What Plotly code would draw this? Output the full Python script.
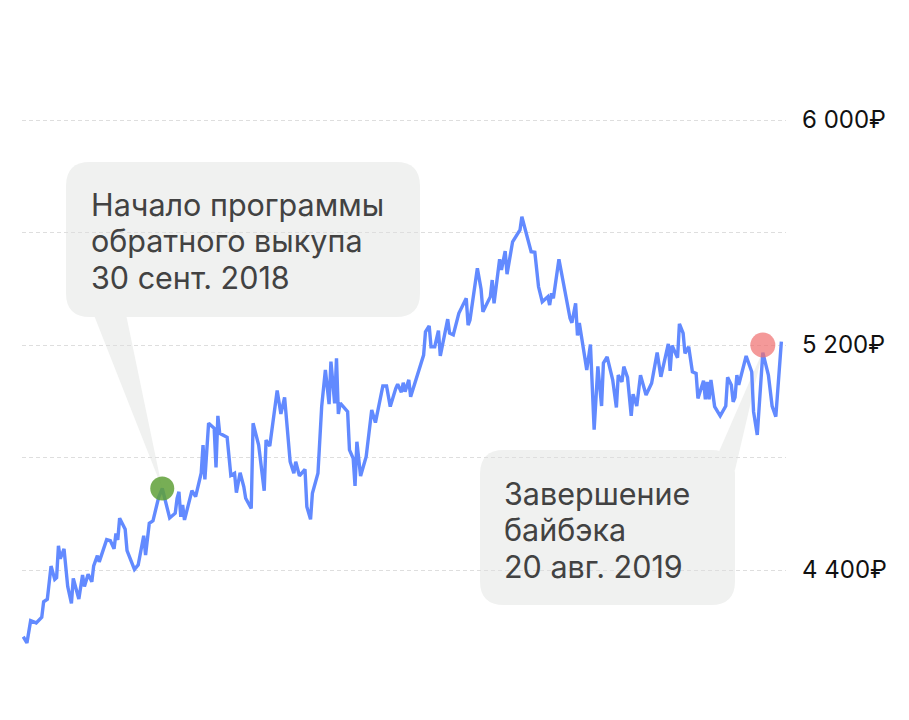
import pandas as pd
import plotly.graph_objects as go

# daily closes
dates = [
    "2018-07-17", "2018-07-19", "2018-07-21", "2018-07-24", "2018-07-27", "2018-07-28", "2018-07-30",
    "2018-08-01", "2018-08-03", "2018-08-04", "2018-08-05", "2018-08-06", "2018-08-08", "2018-08-10",
    "2018-08-12", "2018-08-13", "2018-08-16", "2018-08-18", "2018-08-19", "2018-08-21", "2018-08-23",
    "2018-08-24", "2018-08-26", "2018-08-27", "2018-08-31", "2018-09-02", "2018-09-04", "2018-09-05",
    "2018-09-06", "2018-09-07", "2018-09-10", "2018-09-11", "2018-09-15", "2018-09-17", "2018-09-20",
    "2018-09-21", "2018-09-23", "2018-09-25", "2018-09-28", "2018-09-30",
    "2018-10-04", "2018-10-07", "2018-10-08", "2018-10-09", "2018-10-10", "2018-10-11", "2018-10-12",
    "2018-10-16", "2018-10-18", "2018-10-21", "2018-10-22", "2018-10-23", "2018-10-25", "2018-10-28",
    "2018-10-29", "2018-10-30", "2018-10-31",
    "2018-11-04", "2018-11-06", "2018-11-08", "2018-11-09", "2018-11-11", "2018-11-13", "2018-11-14",
    "2018-11-17", "2018-11-18", "2018-11-21", "2018-11-24", "2018-11-25", "2018-11-27",
    "2018-12-01", "2018-12-03", "2018-12-05", "2018-12-08", "2018-12-10", "2018-12-11", "2018-12-13",
    "2018-12-16", "2018-12-17", "2018-12-19", "2018-12-20", "2018-12-23", "2018-12-25", "2018-12-27",
    "2018-12-29", "2018-12-30",
    "2019-01-01", "2019-01-02", "2019-01-03", "2019-01-04", "2019-01-08", "2019-01-09", "2019-01-11",
    "2019-01-12", "2019-01-13", "2019-01-15", "2019-01-18", "2019-01-21", "2019-01-23", "2019-01-27",
    "2019-01-29", "2019-01-31",
    "2019-02-03", "2019-02-04", "2019-02-06", "2019-02-07", "2019-02-08", "2019-02-10", "2019-02-11",
    "2019-02-18", "2019-02-19", "2019-02-21", "2019-02-22", "2019-02-24", "2019-02-26", "2019-02-27",
    "2019-03-03", "2019-03-04", "2019-03-06", "2019-03-09", "2019-03-13", "2019-03-14", "2019-03-15",
    "2019-03-19", "2019-03-21", "2019-03-22", "2019-03-26", "2019-03-27", "2019-03-28", "2019-03-31",
    "2019-04-01", "2019-04-03", "2019-04-04", "2019-04-07", "2019-04-11", "2019-04-12", "2019-04-17",
    "2019-04-19", "2019-04-21", "2019-04-23", "2019-04-26", "2019-04-27", "2019-04-28", "2019-04-29",
    "2019-05-02", "2019-05-04", "2019-05-08", "2019-05-09", "2019-05-11", "2019-05-12", "2019-05-13",
    "2019-05-16", "2019-05-17", "2019-05-19", "2019-05-21", "2019-05-23", "2019-05-25", "2019-05-26",
    "2019-05-28", "2019-05-31",
    "2019-06-02", "2019-06-03", "2019-06-05", "2019-06-06", "2019-06-08", "2019-06-10", "2019-06-11",
    "2019-06-13", "2019-06-15", "2019-06-18", "2019-06-21", "2019-06-24", "2019-06-26", "2019-06-30",
    "2019-07-01", "2019-07-02", "2019-07-05", "2019-07-06", "2019-07-08", "2019-07-09", "2019-07-11",
    "2019-07-13", "2019-07-15", "2019-07-16", "2019-07-19", "2019-07-20", "2019-07-21", "2019-07-22",
    "2019-07-23", "2019-07-25", "2019-07-28", "2019-07-31",
    "2019-08-01", "2019-08-03", "2019-08-04", "2019-08-05", "2019-08-06", "2019-08-07", "2019-08-11",
    "2019-08-14", "2019-08-15", "2019-08-17", "2019-08-20", "2019-08-23", "2019-08-25", "2019-08-27",
    "2019-08-30",
]
close = [
    4163, 4141, 4220, 4212, 4232, 4287, 4296,
    4414, 4367, 4373, 4486, 4440, 4475, 4341,
    4281, 4370, 4297, 4382, 4341, 4385, 4358,
    4415, 4451, 4429, 4508, 4504, 4475, 4530,
    4507, 4584, 4545, 4469, 4402, 4418, 4522,
    4453, 4566, 4575, 4657, 4690,
    4585, 4602, 4655, 4678, 4589, 4631, 4578,
    4682, 4661, 4744, 4844, 4722, 4922, 4904,
    4765, 4948, 4886,
    4872, 4736, 4744, 4675, 4746, 4696, 4655,
    4619, 4922, 4844, 4682, 4862, 4841,
    5038, 4955, 5014, 4785, 4744, 4785, 4735,
    4758, 4625, 4580, 4673, 4744, 4981, 5111,
    4990, 5141,
    4993, 5153, 4955, 4993, 4963, 4827, 4797,
    4699, 4856, 4734, 4803, 4969, 4924, 5054,
    5054, 4981,
    5046, 5061, 5032, 5066, 5034, 5076, 5016,
    5164, 5247, 5268, 5194, 5194, 5251, 5161,
    5292, 5242, 5236, 5313, 5366, 5271, 5289,
    5473, 5398, 5318, 5372, 5431, 5348, 5505,
    5467, 5534, 5452, 5567, 5609, 5656, 5532,
    5530, 5407, 5354, 5372, 5342, 5384, 5366,
    5505, 5431, 5295, 5279, 5348, 5234, 5278,
    5154, 5111, 5202, 4899, 5124, 4983, 5136,
    5158, 5076,
    4978, 5093, 5069, 5123, 5085, 4948, 5025,
    4983, 5093, 5022, 5064, 5173, 5087, 5204,
    5108, 5198, 5155, 5275, 5242, 5170, 5194,
    5105, 5099, 5010, 5073, 5007, 5069, 5007,
    5076, 4981, 4948, 4983,
    5085, 5058, 4998, 5014, 5093, 5058, 5161,
    5105, 4963, 4880, 5173, 5093, 4983, 4945,
    5212,
]

start_date, start_price = "2018-09-30", 4690
end_date, end_price = "2019-08-20", 5200

tick_vals = [4400, 4800, 5200, 5600, 6000]
tick_text = ["4 400₽", "", "5 200₽", "", "6 000₽"]

note_start = ["Начало программы", "обратного выкупа", "30 сент. 2018"]
note_end = ["Завершение", "байбэка", "20 авг. 2019"]

W, H = 909, 720
L, R = 22, 123
plot_w = W - L - R
x_range = [pd.Timestamp("2018-07-16 08:00"), pd.Timestamp("2019-09-01 12:00")]
y_range = [3866.7, 6426.7]

FONT = "Inter, 'Noto Sans', sans-serif"
BUBBLE = "#f0f1f0"


# pixel helpers for the callouts
def px(x):
    return (x - L) / plot_w


def py(y):
    return 1 - y / H


def date_px(d):
    t = pd.Timestamp(d)
    return L + plot_w * (t - x_range[0]) / (x_range[1] - x_range[0])


def price_py(v):
    return H * (y_range[1] - v) / (y_range[1] - y_range[0])


def rounded_box(x0, y0, x1, y1, r=24):
    def p(x, y):
        return f"{px(x):.5f},{py(y):.5f}"
    return (f"M{p(x0 + r, y0)} L{p(x1 - r, y0)} Q{p(x1, y0)} {p(x1, y0 + r)} "
            f"L{p(x1, y1 - r)} Q{p(x1, y1)} {p(x1 - r, y1)} L{p(x0 + r, y1)} "
            f"Q{p(x0, y1)} {p(x0, y1 - r)} L{p(x0, y0 + r)} Q{p(x0, y0)} {p(x0 + r, y0)} Z")


def tail(a, tip, b):
    return (f"M{px(a[0]):.5f},{py(a[1]):.5f} L{px(tip[0]):.5f},{py(tip[1]):.5f} "
            f"L{px(b[0]):.5f},{py(b[1]):.5f} Z")


fig = go.Figure()
fig.add_trace(go.Scatter(x=dates, y=close, mode="lines",
                         line=dict(color="#628aff", width=3.4), hoverinfo="skip"))
fig.add_trace(go.Scatter(x=[start_date], y=[start_price], mode="markers",
                         marker=dict(size=24, color="rgba(95,160,55,0.85)"), hoverinfo="skip"))
fig.add_trace(go.Scatter(x=[end_date], y=[end_price], mode="markers",
                         marker=dict(size=25, color="rgba(240,110,110,0.7)"), hoverinfo="skip"))

tip1 = (date_px(start_date), price_py(start_price))
tip2 = (date_px(end_date), price_py(end_price) + 6)

shapes = [
    dict(type="path", path=rounded_box(66, 162, 420, 317), fillcolor=BUBBLE),
    dict(type="path", path=tail((88, 300), tip1, (123, 300)), fillcolor=BUBBLE),
    dict(type="path", path=rounded_box(480, 450, 735, 605), fillcolor=BUBBLE),
    dict(type="path", path=tail((711, 470), tip2, (735, 470)), fillcolor=BUBBLE),
]
for s in shapes:
    s.update(xref="paper", yref="paper", line=dict(width=0), layer="between")

annotations = []
for lines, x0, y0 in [(note_start, 89, 204), (note_end, 502, 493)]:
    for i, line in enumerate(lines):
        annotations.append(dict(
            xref="paper", yref="paper", x=px(x0), y=py(y0 + 36.5 * i),
            xanchor="left", yanchor="middle", text=line, showarrow=False,
            font=dict(size=30.5, color="#424242", family=FONT)))

fig.update_layout(
    width=W, height=H,
    margin=dict(l=L, r=R, t=0, b=0),
    paper_bgcolor="white", plot_bgcolor="white",
    showlegend=False,
    shapes=shapes,
    annotations=annotations,
    font=dict(family=FONT),
    xaxis=dict(range=x_range, visible=False, fixedrange=True),
    yaxis=dict(range=y_range, side="right", tickvals=tick_vals, ticktext=tick_text,
               showgrid=True, gridcolor="#dedede", gridwidth=1, griddash="4px,3px",
               zeroline=False, showline=False, ticks="", ticklabelstandoff=15,
               tickfont=dict(size=24, color="#111111", family=FONT), fixedrange=True),
)

fig.write_html("out.html", config={"displayModeBar": False},
               post_script="document.body.style.margin='0';")
